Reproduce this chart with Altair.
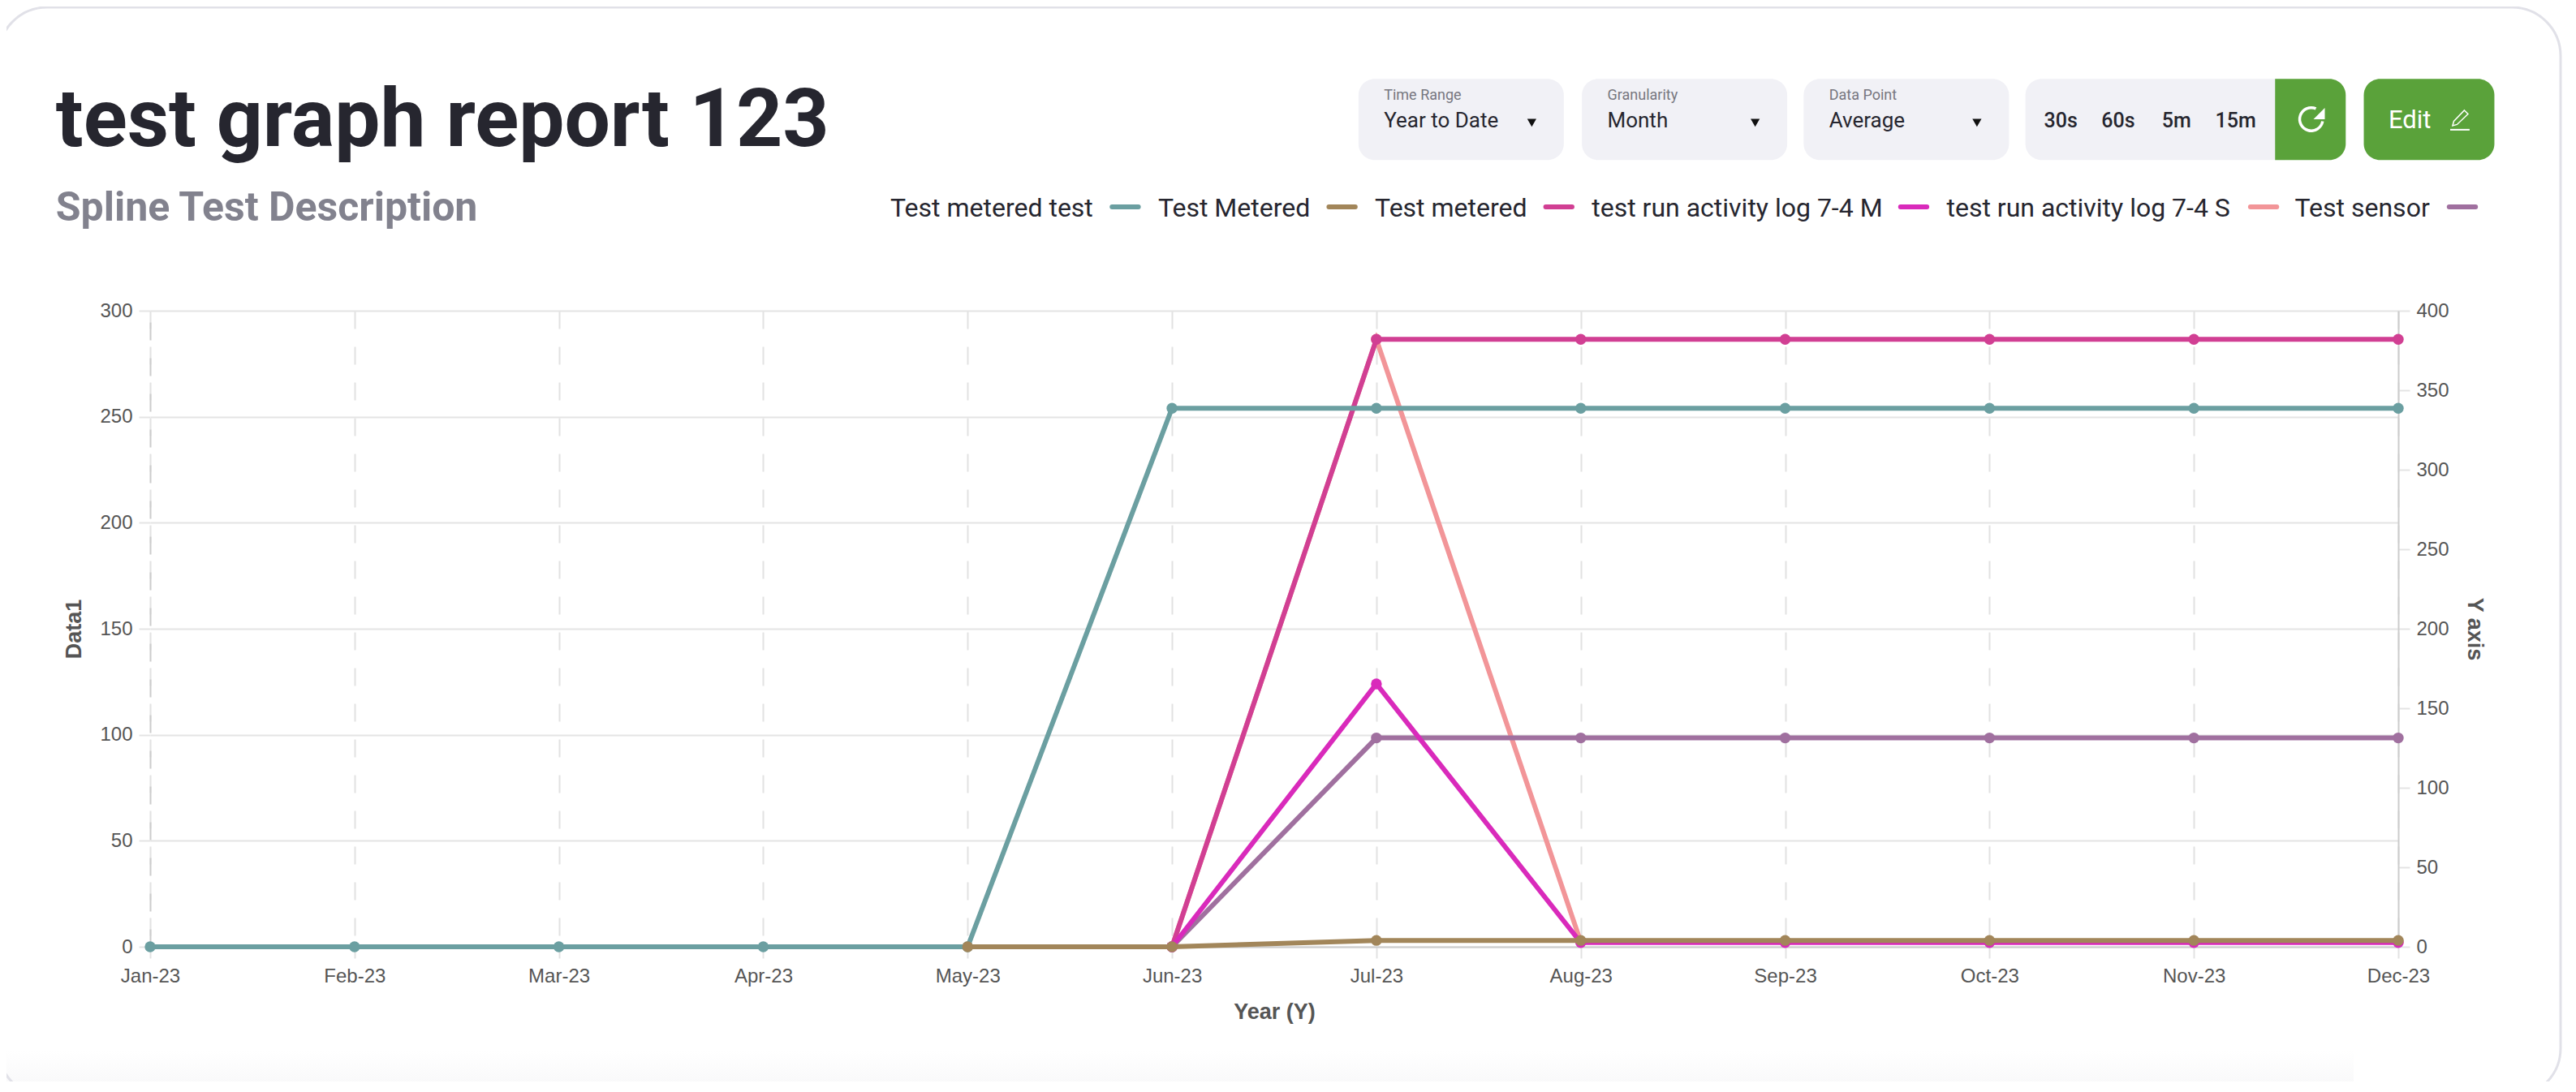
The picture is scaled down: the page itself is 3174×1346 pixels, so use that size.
import altair as alt
import pandas as pd

months = ["Jan-23","Feb-23","Mar-23","Apr-23","May-23","Jun-23","Jul-23","Aug-23","Sep-23","Oct-23","Nov-23","Dec-23"]
N = None
teal    = [0,0,0,0,0,254,254,254,254,254,254,254]
brown   = [N,N,N,N,0,0,3,3,3,3,3,3]
pink    = [N,N,N,N,N,0,382,382,382,382,382,382]
magenta = [N,N,N,N,N,0,124,2,2,2,2,2]
salmon  = [N,N,N,N,N,0,382,3,3,3,3,3]
purple  = [N,N,N,N,N,0,98.5,98.5,98.5,98.5,98.5,98.5]

legend_labels = ["Test metered test","Test Metered","Test metered","test run activity log 7-4 M","test run activity log 7-4 S","Test sensor"]
legend_colors = ["#6b9fa1","#a2865a","#d13f93","#d92abb","#f29598","#a0709f"]
legend_text_x = [542,705,837,969,1185,1397]
legend_swatch_x = [676,808,940,1156,1369,1490]

S = 2.024
PX, PY, PW, PH = 185, 383, 2770, 784
INK = "#26262f"
def X(d): return d*S-PX
def Y(d): return d*S-PY
one = pd.DataFrame({"a":[0]})
base = alt.Chart(one)

def txt(s,x,y,size,color=INK,weight=400,font="Roboto",align="left"):
    return base.mark_text(text=s,font=font,fontSize=size,fontWeight=weight,color=color,align=align,baseline="middle").encode(x=alt.value(X(x)),y=alt.value(Y(y)))
def box(x1,x2,y1,y2,fill,r=20,**kw):
    args = dict(cornerRadius=r) if not kw else kw
    return base.mark_rect(fill=fill,**args).encode(x=alt.value(X(x1)),x2=alt.value(X(x2)),y=alt.value(Y(y1)),y2=alt.value(Y(y2)))

ui = []
# faint shade at the foot of the card
ui.append(base.mark_rect(fill=alt.Gradient(gradient="linear",x1=0,x2=0,y1=0,y2=1,stops=[alt.GradientStop(color="#ffffff",offset=0),alt.GradientStop(color="#f9f9fa",offset=1)])).encode(
    x=alt.value(-PX),x2=alt.value(2900-PX),y=alt.value(1295-PY),y2=alt.value(1335-PY)))
# card outline
ui.append(base.mark_rect(fill=None,stroke="#e1e1e8",strokeWidth=3,cornerRadius=60).encode(
    x=alt.value(-PX-2),x2=alt.value(3155-PX),y=alt.value(9-PY),y2=alt.value(1352-PY)))
ui.append(txt("test graph report 123",34,74,100,INK,700))
ui.append(txt("Spline Test Description",34,127,50,"#82828e",700))
for x1,lab,val in [(827,"Time Range","Year to Date"),(963,"Granularity","Month"),(1098,"Data Point","Average")]:
    ui.append(box(x1,x1+125,48,97.5,"#f1f1f6"))
    ui.append(txt(lab,x1+15.5,58.5,18,"#77777f"))
    ui.append(txt(val,x1+15.5,73.5,26))
    ui.append(base.mark_point(shape="triangle-down",filled=True,fill="#111",stroke="#111",strokeWidth=2,opacity=1,size=60).encode(x=alt.value(X(x1+105.5)),y=alt.value(Y(74.5))))
ui.append(box(1233,1400,48,97.5,"#f1f1f6"))
ui.append(box(1385,1428,48,97.5,"#5aa23a",cornerRadiusTopRight=20,cornerRadiusBottomRight=20))
ui.append(box(1439,1518.5,48,97.5,"#5aa23a"))
for s,x in [("30s",1254.5),("60s",1289.5),("5m",1325),("15m",1361)]:
    ui.append(txt(s,x,73.5,25,INK,500,align="center"))
ui.append(base.mark_arc(fill="white",innerRadius=12.5,outerRadius=16,theta=1.75,theta2=6.7).encode(x=alt.value(X(1407)),y=alt.value(Y(72.6))))
ui.append(base.mark_point(shape="M1,-1 L1,1 L-1,1 Z",filled=True,fill="white",opacity=1,strokeWidth=0,size=196).encode(x=alt.value(X(1411.8)),y=alt.value(Y(69.2))))
ui.append(txt("Edit",1454,73.5,31,"white",400))
ui.append(base.mark_point(shape="M0.55,-1 L1,-0.55 L-0.35,0.75 L-0.9,0.9 L-0.75,0.35 Z",filled=False,stroke="white",strokeWidth=1.5,opacity=1,size=400).encode(x=alt.value(X(1497.5)),y=alt.value(Y(72.1))))
ui.append(base.mark_rule(color="white",strokeWidth=2).encode(x=alt.value(X(1491.6)),x2=alt.value(X(1503.4)),y=alt.value(Y(79))))
for lab,col,tx,sx in zip(legend_labels,legend_colors,legend_text_x,legend_swatch_x):
    ui.append(txt(lab,tx,127,32))
    ui.append(base.mark_rule(color=col,strokeWidth=6,strokeCap="round").encode(x=alt.value(X(sx+1)),x2=alt.value(X(sx+17)),y=alt.value(Y(126))))

def frame(vals):
    return pd.DataFrame({"m":months,"v":vals}).dropna()

x_enc = alt.X("m:N",sort=months,scale=alt.Scale(type="point",padding=0),title="Year (Y)",
    axis=alt.Axis(labelAngle=0,labelFont="Liberation Sans",labelFontSize=24,labelColor="#555555",labelPadding=10,
                  titleFont="Liberation Sans",titleFontSize=27,titleFontWeight="bold",titleColor="#555555",titlePadding=19,
                  grid=True,gridColor="#e2e2e2",gridWidth=2,gridDash=[22,22],domainColor="#cccccc",domainWidth=2,
                  tickColor="#e2e2e2",tickWidth=2,tickSize=14))
left_axis = alt.Axis(values=[0,50,100,150,200,250,300],labelFont="Liberation Sans",labelFontSize=24,labelColor="#555555",labelPadding=8,
    titleFont="Liberation Sans",titleFontSize=27,titleFontWeight="bold",titleColor="#555555",titlePadding=17,
    grid=True,gridColor="#e4e4e4",gridWidth=2,domainColor="#cccccc",domainWidth=2,domainDash=[22,22],tickColor="#e4e4e4",tickWidth=2,tickSize=14)
right_axis = alt.Axis(orient="right",values=[0,50,100,150,200,250,300,350,400],labelFont="Liberation Sans",labelFontSize=24,labelColor="#555555",labelPadding=8,
    titleFont="Liberation Sans",titleFontSize=27,titleFontWeight="bold",titleColor="#555555",titlePadding=17,titleAngle=90,
    grid=False,domainColor="#cccccc",domainWidth=2,tickColor="#e4e4e4",tickWidth=2,tickSize=14)

LEFT = alt.Scale(domain=[0,300],nice=False)
RIGHT = alt.Scale(domain=[0,400],nice=False)

def series(vals,col,scale,axis=None,title=None):
    d = alt.Chart(frame(vals))
    y1 = alt.Y("v:Q",scale=scale,title=title,axis=axis)
    y2 = alt.Y("v:Q",scale=scale,axis=None)
    return [d.mark_line(color=col,strokeWidth=6,clip=False).encode(x=x_enc,y=y1),
            d.mark_point(color=col,fill=col,filled=True,size=180,opacity=1,clip=False).encode(x=x_enc,y=y2)]

layers = []
layers += series(salmon,"#f29598",RIGHT,right_axis,"Y axis")
layers += series(pink,"#d13f93",RIGHT)
layers += series(purple,"#a0709f",LEFT)
layers += series(magenta,"#d92abb",LEFT)
layers += series(teal,"#6b9fa1",LEFT,left_axis,"Data1")
layers += series(brown,"#a2865a",LEFT)

chart = alt.layer(*ui,*layers).resolve_scale(y="independent").properties(
    width=PW,height=PH,
    autosize=alt.AutoSizeParams(type="none"),
    padding={"left":PX-8,"top":PY-8,"right":208,"bottom":166},
    background="white",
).configure_view(stroke=None)
chart.save("out.html",embed_options={"renderer":"svg","actions":False})
